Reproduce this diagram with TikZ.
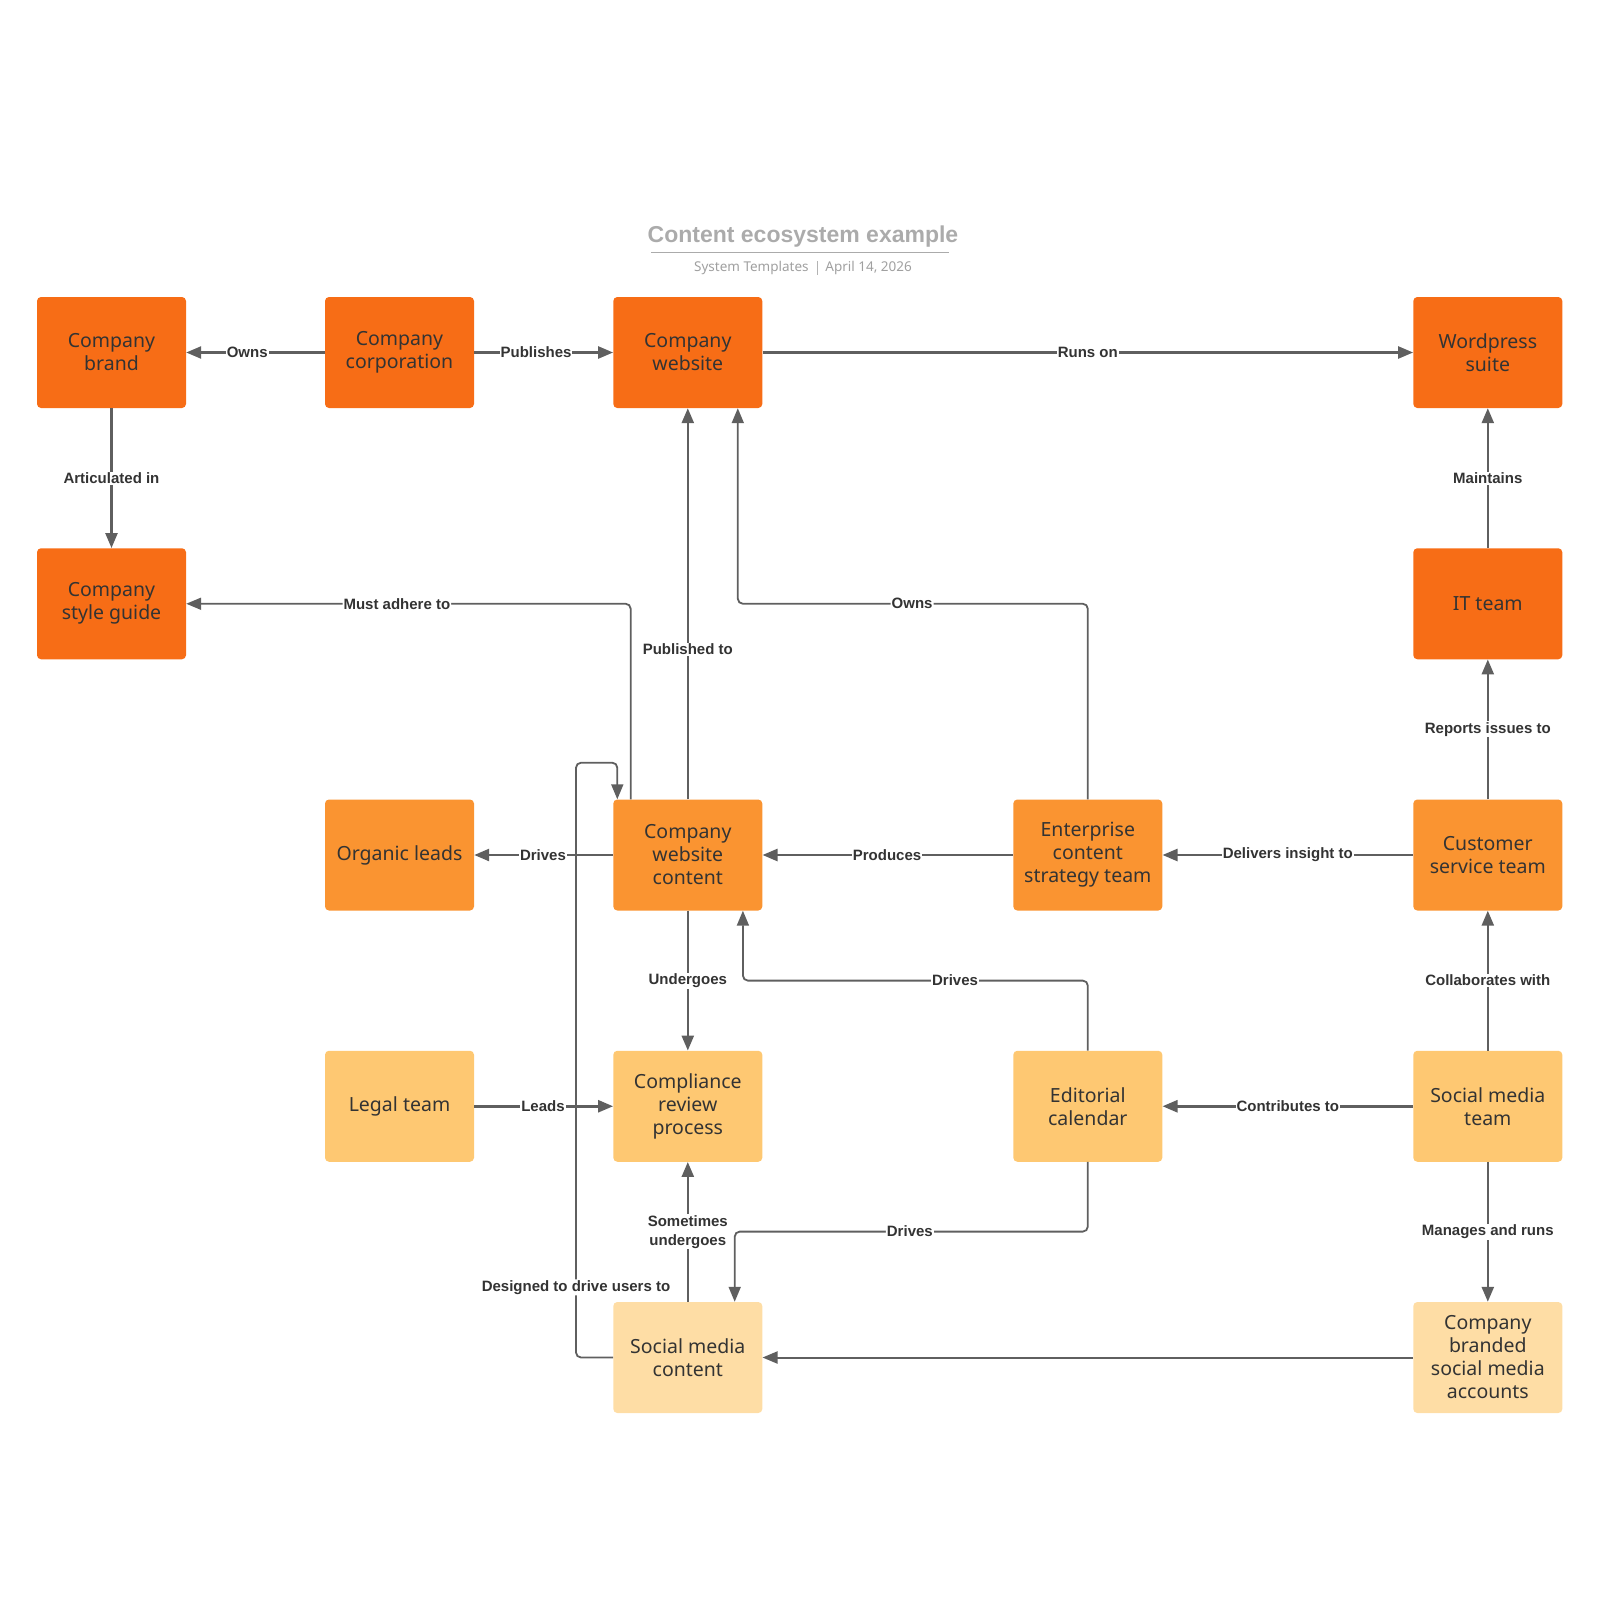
\documentclass[tikz,border=0pt]{standalone}
\usepackage{fontspec}
\setmainfont{Noto Sans}
\newfontfamily\lblfont{Liberation Sans}
\usetikzlibrary{arrows.meta}
\definecolor{oA}{HTML}{F76D16}
\definecolor{oB}{HTML}{FA9431}
\definecolor{oC}{HTML}{FEC872}
\definecolor{oD}{HTML}{FEDDA5}
\definecolor{txt}{HTML}{333333}
\definecolor{lnc}{HTML}{5F5F5F}
\definecolor{ttl}{HTML}{ABABAB}
\definecolor{sub}{HTML}{A0A0A0}
\begin{document}
\begin{tikzpicture}[x=1pt,y=-1pt,
  box/.style={rectangle, rounded corners=4pt, minimum width=149pt, minimum height=111pt,
    inner sep=0pt, align=center, text=txt, font=\fontsize{19.5}{23}\selectfont},
  bA/.style={box, fill=oA}, bB/.style={box, fill=oB},
  bC/.style={box, fill=oC}, bD/.style={box, fill=oD},
  conn/.style={draw=lnc, line width=2.5pt, -{Triangle[length=15pt,width=12pt]}},
  elbow/.style={conn, line width=1.8pt, rounded corners=5pt},
  lbl/.style={fill=white, text=txt, inner sep=1pt, align=center,
    font=\lblfont\bfseries\fontsize{15}{19}\selectfont}]
\useasboundingbox (0,0) rectangle (1600,1600);

% title
\node (title) at (803,237) {\color{ttl}\lblfont\bfseries\fontsize{23}{26}\selectfont Content ecosystem example};
\draw[ttl, line width=1.5pt] (651,252.5) -- (949,252.5);
\node (subt) at (803,268) {\color{sub}\fontsize{13.5}{15}\selectfont System Templates\hspace{8pt}\textcolor{sub!80}{\rule[-3pt]{0.8pt}{14pt}}\hspace{8pt}April 14, 2026};

% nodes
\node[bA] (brand) at (111.5,352.5) {Company\\brand};
\node[bA] (corp)  at (399.5,352.5) {Company\\corporation};
\node[bA] (web)   at (687.8,352.5) {Company\\website};
\node[bA] (wp)    at (1487.8,352.5) {Wordpress\\suite};
\node[bA] (style) at (111.5,603.75) {Company\\style guide};
\node[bA] (it)    at (1487.8,603.75) {IT team};
\node[bB] (organic) at (399.5,855) {Organic leads};
\node[bB] (cwc)   at (687.8,855) {Company\\website\\content};
\node[bB] (ent)   at (1087.8,855) {Enterprise\\content\\strategy team};
\node[bB] (cs)    at (1487.8,855) {Customer\\service team};
\node[bC] (legal) at (399.5,1106.25) {Legal team};
\node[bC] (comp)  at (687.8,1106.25) {Compliance\\review\\process};
\node[bC] (edit)  at (1087.8,1106.25) {Editorial\\calendar};
\node[bC] (smt)   at (1487.8,1106.25) {Social media\\team};
\node[bD] (smc)   at (687.8,1357.5) {Social media\\content};
\node[bD] (acc)   at (1487.8,1357.5) {Company\\branded\\social media\\accounts};

\coordinate (loopL) at (576,762.7);

% connectors
\draw[conn] (corp.west) -- node[lbl,pos=0.56] {Owns} (brand.east);
\draw[conn] (corp.east) -- node[lbl,pos=0.445] {Publishes} (web.west);
\draw[conn] (web.east) -- node[lbl,pos=0.5] {Runs on} (wp.west);
\draw[conn] (brand.south) -- node[lbl,pos=0.5] {Articulated in} (style.north);
\draw[conn] (it.north) -- node[lbl,pos=0.5] {Maintains} (wp.south);
\draw[conn] (cs.north) -- node[lbl,pos=0.5] {Reports issues to} (it.south);
\draw[elbow] ([xshift=-57.1pt]cwc.north) |- node[lbl,pos=0.763] {Must adhere to} (style.east);
\draw[conn] (cwc.north) -- node[lbl,pos=0.384] {Published to} (web.south);
\draw[elbow] (ent.north) |- node[lbl,pos=0.751] {Owns} ([xshift=50pt]web.south |- style.east) -- ([xshift=50pt]web.south);
\draw[conn] (ent.west) -- node[lbl,pos=0.503] {Produces} (cwc.east);
\draw[conn] (cs.west) -- node[lbl,pos=0.5] {Delivers insight to} (ent.east);
\draw[conn] (cwc.west) -- node[lbl,pos=0.505] {Drives} (organic.east);
\draw[conn] (cwc.south) -- node[lbl,pos=0.5] {Undergoes} (comp.north);
\draw[elbow] (edit.north) |- node[lbl,pos=0.6925] {Drives} ([xshift=55.1pt]cwc.south |- 0,980.6) -- ([xshift=55.1pt]cwc.south);
\draw[conn] (smt.north) -- node[lbl,pos=0.5] {Collaborates with} (cs.south);
\draw[conn] (legal.east) -- node[lbl,pos=0.495] {Leads} (comp.west);
\draw[conn] (smt.west) -- node[lbl,pos=0.5] {Contributes to} (edit.east);
\draw[conn] (smt.south) -- node[lbl,pos=0.5] {Manages and runs} (acc.north);
\draw[elbow] (edit.south) |- node[lbl,pos=0.752] {Drives} ([xshift=46.9pt]smc.north |- 0,1231.6) -- ([xshift=46.9pt]smc.north);
\draw[conn] (smc.north) -- node[lbl,pos=0.5] {Sometimes\\undergoes} (comp.south);
\draw[conn, line width=2pt] (acc.west) -- (smc.east);
\draw[elbow] (smc.west) -| node[lbl,pos=0.559] {Designed to drive users to} (loopL) -| ([xshift=-70.5pt]cwc.north);
\end{tikzpicture}
\end{document}
